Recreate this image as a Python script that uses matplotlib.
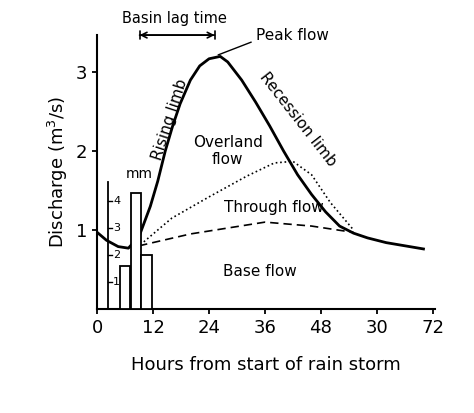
import matplotlib
matplotlib.use("Agg")
import matplotlib.pyplot as plt
import numpy as np

hydro_x = [0, 2, 4.5, 6.7, 9, 11.4, 13, 14.6, 16.2, 17.8, 20, 22, 24, 26.4, 28, 31, 34, 37, 40, 43, 46, 49, 52, 55, 58, 62, 66, 70]
hydro_y = [0.97, 0.87, 0.79, 0.77, 0.92, 1.3, 1.62, 2.0, 2.32, 2.6, 2.9, 3.08, 3.17, 3.2, 3.13, 2.9, 2.62, 2.32, 2.0, 1.7, 1.45, 1.23, 1.05, 0.96, 0.9, 0.84, 0.8, 0.76]
base_x = [9, 20, 36, 46, 55]
base_y = [0.8, 0.95, 1.1, 1.05, 0.97]
through_x = [10, 16, 24, 32, 38, 42, 46, 50, 55]
through_y = [0.85, 1.15, 1.42, 1.68, 1.85, 1.87, 1.7, 1.35, 1.0]
rain_x = [6.0, 8.3, 10.6]
rain_mm = [1.6, 4.3, 2.0]
xtick_pos = [0, 12, 24, 36, 48, 60, 72]
xtick_labels = ["0", "12", "24", "36", "48", "30", "72"]

mm2q = 0.342
fig = plt.figure(figsize=(4.74, 4.13), dpi=100)
ax = fig.add_axes([0.205, 0.252, 0.713, 0.663])
ax.plot(hydro_x, hydro_y, color="black", lw=2)
ax.plot(base_x, base_y, color="black", lw=1.2, ls=(0, (5, 3)))
ax.plot(through_x, through_y, color="black", lw=1.2, ls=":")
ax.bar(rain_x, [m * mm2q for m in rain_mm], width=2.2, facecolor="white", edgecolor="black", lw=1.3, zorder=3)
ax.plot([2.4, 2.4], [0, 4.7 * mm2q], color="black", lw=1.3, zorder=4)
for m in [1, 2, 3, 4]:
    ax.plot([2.4, 3.2], [m * mm2q, m * mm2q], color="black", lw=1, zorder=4)
    ax.text(3.4, m * mm2q, str(m), fontsize=8, va="center", ha="left", zorder=5)
ax.text(9, 4.75 * mm2q, "mm", fontsize=10, ha="center", va="bottom")

ax.set_xlim(0, 72.5)
ax.set_ylim(0, 3.47)
ax.spines[["top", "right"]].set_visible(False)
ax.spines[["left", "bottom"]].set_linewidth(1.5)
ax.set_yticks([1, 2, 3])
ax.set_xticks(xtick_pos)
ax.set_xticklabels(xtick_labels)
ax.tick_params(labelsize=13, width=1.3)
ax.set_ylabel("Discharge (m$^3$/s)", fontsize=13)
ax.set_xlabel("Hours from start of rain storm", fontsize=13, labelpad=14)

ax.annotate("", xy=(8.5, 3.47), xytext=(25.8, 3.47), annotation_clip=False,
            arrowprops=dict(arrowstyle="|-|,widthA=0.3,widthB=0.3", lw=1.2))
ax.annotate("", xy=(8.5, 3.47), xytext=(25.8, 3.47), annotation_clip=False,
            arrowprops=dict(arrowstyle="<->", lw=1.2))
ax.text(16.5, 3.58, "Basin lag time", fontsize=10.5, ha="center", va="bottom")
ax.text(34, 3.47, "Peak flow", fontsize=11, ha="left", va="center")
ax.plot([26, 33], [3.22, 3.38], color="black", lw=1, clip_on=False)
ax.text(15.5, 2.4, "Rising limb", fontsize=11, rotation=72, ha="center", va="center")
ax.text(43, 2.4, "Recession limb", fontsize=11, rotation=-52, ha="center", va="center")
ax.text(28, 2.0, "Overland\nflow", fontsize=11, ha="center", va="center")
ax.text(38, 1.28, "Through flow", fontsize=11, ha="center", va="center")
ax.text(35, 0.47, "Base flow", fontsize=11, ha="center", va="center")
fig.savefig("out.png", dpi=100)
